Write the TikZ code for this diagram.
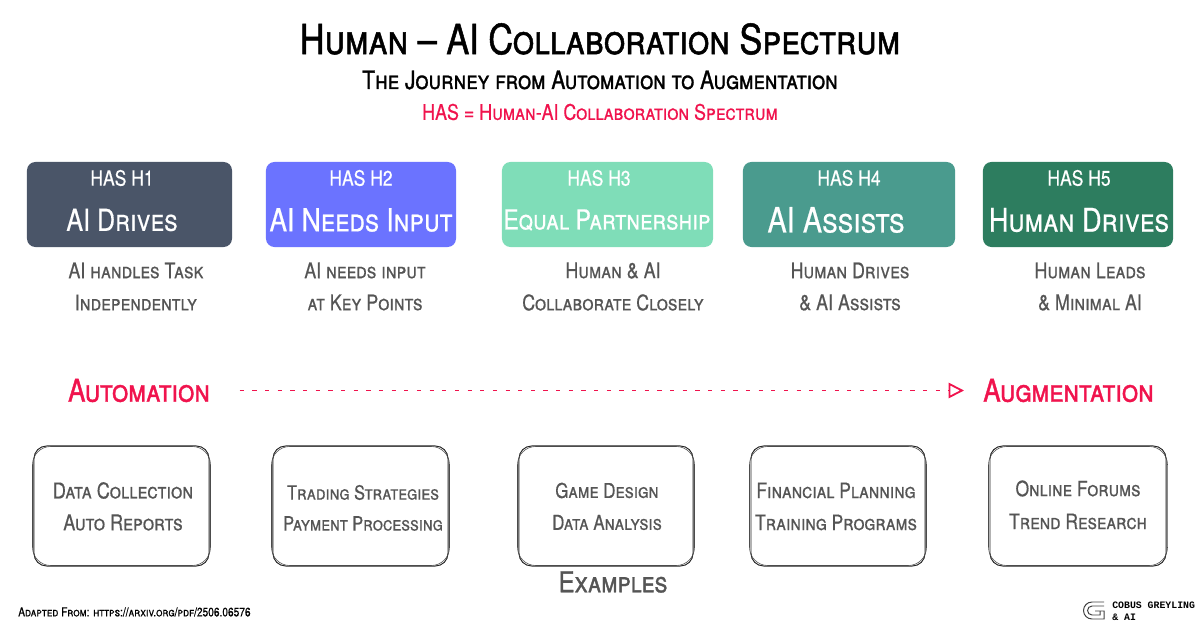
\documentclass[tikz,border=0pt]{standalone}
\usepackage{fontspec}
\setmainfont{TeX Gyre Heros}[FakeStretch=0.83, FakeBold=0.5]
\newfontfamily\heavyfont{TeX Gyre Heros}[FakeStretch=0.83, FakeBold=1.2]
\newfontfamily\logofont{Liberation Mono}
\usetikzlibrary{arrows.meta,positioning}
\definecolor{slatebox}{HTML}{4A5568}
\definecolor{indigobox}{HTML}{6B73FF}
\definecolor{mintbox}{HTML}{7FDDB8}
\definecolor{tealbox}{HTML}{4A9B8E}
\definecolor{greenbox}{HTML}{2D7D5F}
\definecolor{pinkred}{HTML}{F0134D}
\definecolor{softgray}{HTML}{555555}
\newcommand{\sz}[1]{\fontsize{#1}{#1}\selectfont\scshape}
\tikzset{
    levelbox/.style={rounded corners=6, minimum height=85*0.7113pt, inner sep=0, text=white},
    levelname/.style={text=white, anchor=center},
    leveltag/.style={font={\sz{15}}, text=white, anchor=center},
    descline/.style={font={\sz{15.3}}, text=softgray, anchor=center},
    samplebox/.style={draw=black!85, line width=0.7pt, rounded corners=9, minimum height=120*0.7113pt, inner sep=0},
    sketchline/.style={draw=black!70, line width=0.4pt, rounded corners=13},
    sampleline/.style={text=softgray, anchor=center},
    endword/.style={font={\heavyfont\sz{22.3}}, text=pinkred, anchor=center, inner sep=0}
}
\begin{document}
\begin{tikzpicture}[x=0.025cm, y=-0.025cm]
    \useasboundingbox (0,0) rectangle (1200,628);

    % title block
    \node at (600,39) [font={\heavyfont\sz{29.4}}] (title) {Human – AI Collaboration Spectrum};
    \node at (600,80) [font={\heavyfont\sz{18}}] (subtitle) {The Journey from Automation to Augmentation};
    \node at (600,112) [font={\sz{15.3}}, text=pinkred] (hasnote) {HAS = Human-AI Collaboration Spectrum};

    % level boxes
    \node at (129.5,204.5) [levelbox, fill=slatebox, minimum width=205*0.7113pt] (boxa) {};
    \node at (361,204.5) [levelbox, fill=indigobox, minimum width=190*0.7113pt] (boxb) {};
    \node at (607.5,204.5) [levelbox, fill=mintbox, minimum width=211*0.7113pt] (boxc) {};
    \node at (849,204.5) [levelbox, fill=tealbox, minimum width=212*0.7113pt] (boxd) {};
    \node at (1078,204.5) [levelbox, fill=greenbox, minimum width=190*0.7113pt] (boxe) {};

    \foreach \name/\tagx/\namex/\namesz/\tagtext/\nametext in {
        a/122/122/21.5/HAS H1/AI Drives,
        b/361/361/22.6/HAS H2/AI Needs Input,
        c/599/607/19.6/HAS H3/Equal Partnership,
        d/849/836/24.8/HAS H4/AI Assists,
        e/1079/1079/23.2/HAS H5/Human Drives}{
        \node at (\tagx,178) [leveltag] (tag\name) {\tagtext};
        \node at (\namex,220) [levelname, font={\sz{\namesz}}] (name\name) {\nametext};
    }

    % descriptions
    \foreach \name/\descx/\first/\second in {
        a/136/AI handles Task/Independently,
        b/365/AI needs input/at Key Points,
        c/613/Human \& AI/Collaborate Closely,
        d/850/Human Drives/\& AI Assists,
        e/1090/Human Leads/\& Minimal AI}{
        \node at (\descx,270.5) [descline] (desc\name) {\first};
        \node at (\descx,302.5) [descline] (descb\name) {\second};
    }

    % spectrum
    \node at (139,390.5) [endword] (auto) {Automation};
    \node at (1068.5,390.5) [endword] (augm) {Augmentation};
    \draw [pinkred, line width=0.9pt, dash pattern=on 3pt off 6pt, -{Triangle[open, length=11pt, width=11pt, line width=1.3pt]}] ([xshift=21pt] auto.east) -- ([xshift=-13.5pt] augm.west);

    % example boxes
    \foreach \name/\boxx/\boxw/\textx/\upy/\lowy/\textsz/\first/\second in {
        a/121.5/175/123/491/523/15.5/Data Collection/Auto Reports,
        b/360.5/175/363/493/524/14/Trading Strategies/Payment Processing,
        c/606/174/607/491/523/14.5/Game Design/Data Analysis,
        d/838/174/836/491/523/15/Financial Planning/Training Programs,
        e/1078/176/1078/489/522/15/Online Forums/Trend Research}{
        \node at (\boxx,506) [samplebox, minimum width=\boxw*0.7113pt] (sample\name) {};
        \draw [sketchline] ([shift={(-1,1)}] sample\name.north west) rectangle ([shift={(1,-1)}] sample\name.south east);
        \node at (\textx,\upy-0.5) [sampleline, font={\sz{\textsz}}] (samplea\name) {\first};
        \node at (\textx,\lowy-0.5) [sampleline, font={\sz{\textsz}}] (sampleb\name) {\second};
    }
    \node at (613,582) [font={\heavyfont\sz{20.5}}, text=softgray] (examples) {Examples};

    % footer
    \node at (18,612) [anchor=west, inner sep=0, font={\sz{8.7}}] (adapted) {Adapted From: https://arxiv.org/pdf/2506.06576};
    \draw [black!75, line width=0.7pt] (1104,602) -- (1092,602) arc (270:90:8.5) -- (1104,619) -- (1104,611) -- (1095,611);
    \draw [black!75, line width=0.7pt] (1104,606) -- (1092,606) arc (270:90:4.5) -- (1100,615) -- (1100,611);
    \node at (1112,605) [anchor=west, inner sep=0, font={\logofont\bfseries\fontsize{7}{7}\selectfont}] (logoa) {COBUS GREYLING};
    \node at (1112,617) [anchor=west, inner sep=0, font={\logofont\bfseries\fontsize{7}{7}\selectfont}] (logob) {\& AI};
\end{tikzpicture}
\end{document}
